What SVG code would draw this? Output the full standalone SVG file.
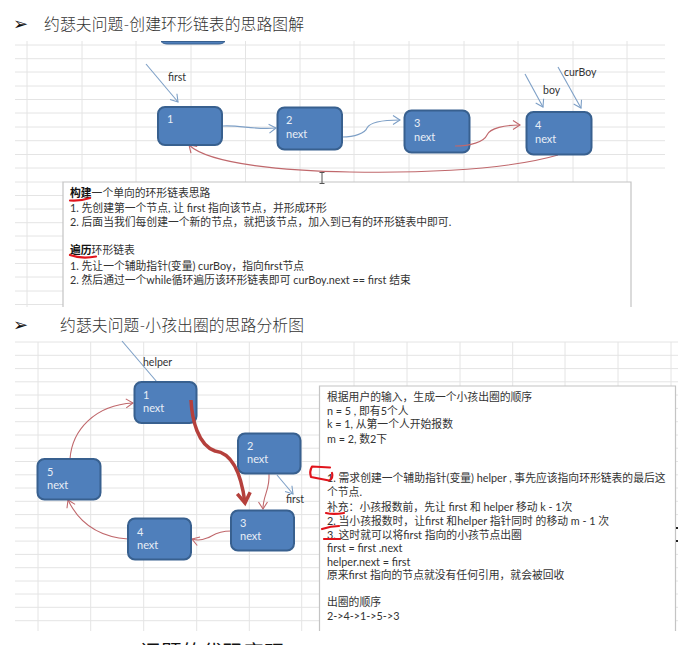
<svg xmlns="http://www.w3.org/2000/svg" width="700" height="645" viewBox="0 0 700 645">
<style>
text{font-family:"Lato","Noto Sans CJK SC","Noto Sans",sans-serif}
.grid{stroke:#e4e4e4;stroke-width:1;fill:none}
.nb{fill:#4f7fbb;stroke:#38608f;stroke-width:2}
.nt{fill:#e8eef6;font-size:11px}
.lb{fill:#333;font-size:10.5px}
.h{fill:#333;font-size:15.8px;font-weight:300}
.t{fill:#333;font-size:10.8px}
.ar{font-family:"DejaVu Sans",sans-serif;font-size:18px;fill:#111}
.panel{fill:#fff;stroke:#c4c4c4;stroke-width:1.2}
.bl{fill:none;stroke:#7d9fc6;stroke-width:1.1;marker-end:url(#ab)}
.rd{fill:none;stroke:#c0686c;stroke-width:1.1;marker-end:url(#ar)}
.mk{fill:none;stroke:#e1141c;stroke-width:2.2;stroke-linecap:round;stroke-linejoin:round}
</style>
<defs>
<marker id="ab" markerUnits="userSpaceOnUse" markerWidth="12" markerHeight="12" refX="10" refY="6" orient="auto"><path d="M3 1.500L10 6L3 10.500" fill="none" stroke="#7d9fc6" stroke-width="1.100"/></marker>
<marker id="ar" markerUnits="userSpaceOnUse" markerWidth="12" markerHeight="12" refX="10" refY="6" orient="auto"><path d="M3 1.500L10 6L3 10.500" fill="none" stroke="#c0686c" stroke-width="1.100"/></marker>
<marker id="at" markerUnits="userSpaceOnUse" markerWidth="18" markerHeight="18" refX="13" refY="9" orient="auto"><path d="M3 2.500L13 9L3 15.500" fill="none" stroke="#b5403c" stroke-width="3.500"/></marker>
</defs>
<rect width="700" height="645" fill="#fff"/>

<g id="headings">
<text class="ar" x="13" y="30">➢</text>
<text class="h" x="44" y="30" textLength="260">约瑟夫问题-创建环形链表的思路图解</text>
<text class="ar" x="13" y="331">➢</text>
<text class="h" x="60" y="331" textLength="244">约瑟夫问题-小孩出圈的思路分析图</text>
<text x="140" y="660" style="font-size:20.7px;fill:#111">问题的代码实现</text>
</g>

<g id="grid-top">
<path class="grid" d="M27 41V307M82 41V307M136 41V307M191 41V307M245.500 41V307M300 41V182M354 41V182M409 41V182M464 41V182M518 41V182M573 41V182M627 41V182"/>
<path class="grid" d="M15 45H665M15 58.700H665M15 72H665M15 86H665M15 99.500H665M15 113H665M15 127H665M15 140.700H665M15 154.500H665M15 168H665M15 182H63M15 195.500H63M15 209H63M15 222.700H63M15 236H63M15 250H63M15 263.500H63M15 277H63M15 291H63M15 304.500H63"/>
</g>
<g id="grid-bottom">
<path class="grid" d="M38 342V631M90.700 342V631M143.700 342V631M196.700 342V631M249.300 342V631M301.700 342V631M354 342V386M407 342V386M460 342V386M512.700 342V386M565 342V386M618 342V386M671 342V386"/>
<path class="grid" d="M15 342H678M15 355.300H678M15 368.600H678M15 381.800H678M15 395H319M15 408.400H319M15 421.700H319M15 435H319M15 448.200H319M15 461.500H319M15 474.800H319M15 488H319M15 501.300H319M15 514.600H319M15 527.900H319M15 541.100H319M15 554.400H319M15 567.700H319M15 581H319M15 594H319M15 607.300H319M15 620.700H319"/>
<path class="grid" d="M676 395H678M676 408.400H678M676 421.700H678M676 435H678M676 448.200H678M676 461.500H678M676 474.800H678M676 488H678M676 501.300H678M676 514.600H678M676 527.900H678M676 541.100H678M676 554.400H678M676 567.700H678M676 581H678M676 594H678M676 607.300H678M676 620.700H678"/>
</g>

<g id="panel-top">
<path class="panel" d="M63 307V182H631V307"/>
<path d="M319.500 172.500h5M322 172.500V183.500M319.500 183.500h5" fill="none" stroke="#555" stroke-width="1"/>
<text class="t" x="70" y="197"><tspan font-weight="700" fill="#111">构建</tspan>一个单向的环形链表思路</text>
<text class="t" x="70" y="212">1. 先创建第一个节点, 让 first 指向该节点，并形成环形</text>
<text class="t" x="70" y="226">2. 后面当我们每创建一个新的节点，就把该节点，加入到已有的环形链表中即可.</text>
<text class="t" x="70" y="254"><tspan font-weight="700" fill="#111">遍历</tspan>环形链表</text>
<text class="t" x="70" y="270">1. 先让一个辅助指针(变量) curBoy，指向first节点</text>
<text class="t" x="70" y="284">2. 然后通过一个while循环遍历该环形链表即可 curBoy.next == first 结束</text>
<path class="mk" d="M70 200.500C77 201 84 200 90 198M70 255C78 258 88 258 96 256.500"/>
</g>

<g id="panel-bottom">
<path class="panel" d="M319.500 631V386H675.500V631"/>
<text class="t" x="327" y="401">根据用户的输入，生成一个小孩出圈的顺序</text>
<text class="t" x="327" y="415">n = 5 , 即有5个人</text>
<text class="t" x="327" y="428">k = 1, 从第一个人开始报数</text>
<text class="t" x="327" y="443">m = 2, 数2下</text>
<text class="t" x="327" y="482">1. 需求创建一个辅助指针(变量) helper , 事先应该指向环形链表的最后这</text>
<text class="t" x="327" y="496">个节点.</text>
<text class="t" x="327" y="511">补充：小孩报数前，先让 first 和 helper 移动 k - 1次</text>
<text class="t" x="327" y="525">2. 当小孩报数时，让first 和helper 指针同时 的移动 m - 1 次</text>
<text class="t" x="327" y="539">3. 这时就可以将first 指向的小孩节点出圈</text>
<text class="t" x="327" y="552">first = first .next</text>
<text class="t" x="327" y="566">helper.next = first</text>
<text class="t" x="327" y="579">原来first 指向的节点就没有任何引用，就会被回收</text>
<text class="t" x="327" y="606">出圈的顺序</text>
<text class="t" x="327" y="620">2-&gt;4-&gt;1-&gt;5-&gt;3</text>
<path class="mk" d="M330 467.500L312 466.500C310 470 310 474 311 477L329 480.500C332 480 333 476 332 473"/>
<path class="mk" d="M326 513C332 514.500 338 514 344 513M322 529C328 527 333 526 339 526M324 539H340"/>
<rect x="676" y="527" width="2" height="2" fill="#222"/><rect x="676" y="540" width="2" height="2" fill="#222"/>
</g>

<g id="connectors">
<path class="bl" d="M146 64L178 102"/>
<path class="bl" d="M223 126C240 125 255 130 276 128"/>
<path class="bl" d="M342 137C355 137 365 133 367 128C370 122 385 120 400 120"/>
<path class="bl" d="M525 74L543 107"/>
<path class="bl" d="M558 67L581 108"/>
<path class="rd" d="M558 155C500 172 400 173 350 172C290 171 210 165 189 145"/>
<path d="M122 341L157 382" fill="none" stroke="#7d9fc6" stroke-width="1.100"/>
<path class="rd" d="M269 474C270 490 263 495 263 509"/>
<path class="bl" d="M277 475L293 494"/>
<path class="rd" d="M231 531C215 531 212 537 207 538C200 541 195 540 192 539"/>
<path class="rd" d="M128 539C100 537 80 525 68 500"/>
<path class="rd" d="M70 459C72 430 95 405 133 403"/>
</g>

<g id="t-node-0"><path d="M161 41.500C163 43.500 165 44 168 44H218C221 44 223 43.500 225 41.500Z" fill="#4f7fbb" stroke="#38608f"/></g>
<g id="t-node-1"><rect class="nb" x="158" y="107" width="64" height="38" rx="7"/><text class="nt" x="167" y="123">1</text></g>
<g id="t-node-2"><rect class="nb" x="277.500" y="107.500" width="64.500" height="42" rx="7"/><text class="nt" x="286" y="124">2</text><text class="nt" x="286" y="138">next</text></g>
<g id="t-node-3"><rect class="nb" x="404.500" y="110.500" width="65" height="42" rx="7"/><text class="nt" x="414" y="127">3</text><text class="nt" x="414" y="141">next</text></g>
<g id="t-node-4"><rect class="nb" x="526.500" y="112" width="65" height="42.500" rx="7"/><text class="nt" x="535" y="129">4</text><text class="nt" x="535" y="143">next</text></g>
<g id="b-node-1"><rect class="nb" x="134.500" y="382" width="62" height="41" rx="7"/><text class="nt" x="143" y="399">1</text><text class="nt" x="143" y="412">next</text></g>
<g id="b-node-2"><rect class="nb" x="238" y="433.500" width="62.500" height="40" rx="7"/><text class="nt" x="247" y="450">2</text><text class="nt" x="247" y="463">next</text></g>
<g id="b-node-3"><rect class="nb" x="231" y="510.500" width="63" height="40" rx="7"/><text class="nt" x="240" y="527">3</text><text class="nt" x="240" y="540">next</text></g>
<g id="b-node-4"><rect class="nb" x="128" y="518.500" width="63" height="41" rx="7"/><text class="nt" x="137" y="536">4</text><text class="nt" x="137" y="549">next</text></g>
<g id="b-node-5"><rect class="nb" x="37.500" y="459" width="63" height="40.500" rx="7"/><text class="nt" x="47" y="476">5</text><text class="nt" x="47" y="489">next</text></g>

<g id="overlay-connectors">
<path class="rd" d="M455 146C470 146 484 142 487 135C490 128 505 125 520 125"/>
<path d="M191 400C192 420 198 445 215 451C232 453 241 472 245 503" fill="none" stroke="#b5403c" stroke-width="3.500" marker-end="url(#at)"/>
</g>

<g id="labels">
<text class="lb" x="168" y="81">first</text>
<text class="lb" x="543" y="94">boy</text>
<text class="lb" x="564" y="76">curBoy</text>
<text class="lb" x="143" y="366">helper</text>
<text class="lb" x="286" y="503">first</text>
</g>
</svg>
